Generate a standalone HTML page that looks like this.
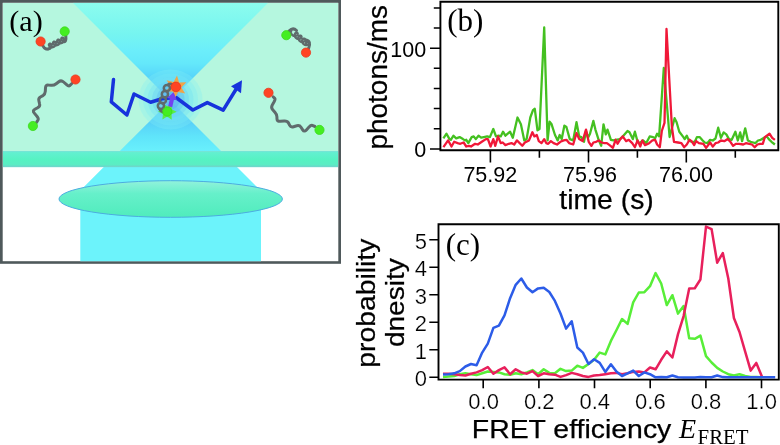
<!DOCTYPE html>
<html><head><meta charset="utf-8"><title>smFRET figure</title>
<style>
html,body{margin:0;padding:0;background:#fff;}
svg{display:block}
.sans{font-family:"Liberation Sans",sans-serif;fill:#000}
.tick{stroke:#fff;stroke-width:0.22px}
.lab{stroke:#000;stroke-width:0.25px}
.serif{font-family:"Liberation Serif",serif;fill:#000}
</style></head><body>
<svg width="780" height="445" viewBox="0 0 780 445">
<defs>
<linearGradient id="beam" gradientUnits="userSpaceOnUse" x1="0" y1="2.8" x2="0" y2="151">
<stop offset="0" stop-color="#8cfcee"/><stop offset="0.21" stop-color="#76f5f0"/><stop offset="0.32" stop-color="#6ceefa"/><stop offset="0.41" stop-color="#64e8fa"/><stop offset="0.49" stop-color="#58d7fa"/><stop offset="0.656" stop-color="#52c0f6"/><stop offset="0.804" stop-color="#58d0f8"/><stop offset="0.9" stop-color="#5fe4fa"/><stop offset="1" stop-color="#69f0fc"/>
</linearGradient>
<linearGradient id="glass" x1="0" y1="0" x2="0" y2="1">
<stop offset="0" stop-color="#7ce0d8"/><stop offset="0.1" stop-color="#62f0d0"/><stop offset="0.55" stop-color="#56f2c2"/><stop offset="0.86" stop-color="#5cecc4"/><stop offset="0.94" stop-color="#6ad6c8"/><stop offset="1" stop-color="#78dcd2"/>
</linearGradient>
<linearGradient id="lens" x1="0" y1="0" x2="0" y2="1">
<stop offset="0" stop-color="#92f2dc"/><stop offset="0.35" stop-color="#66f0ca"/><stop offset="1" stop-color="#50ecbc"/>
</linearGradient>
<clipPath id="pa"><rect x="2.7" y="2.8" width="335.6" height="258.4"/></clipPath>
<clipPath id="pb"><rect x="441" y="2" width="337" height="147.5"/></clipPath>
<clipPath id="pc"><rect x="439.5" y="225" width="339" height="154"/></clipPath>
</defs>
<rect width="780" height="445" fill="#fff"/>
<!-- panel a -->
<rect x="0" y="0" width="341" height="263.8" fill="#4f595b"/>
<rect x="2.7" y="2.8" width="335.6" height="258.4" fill="#fff"/>
<g clip-path="url(#pa)">
<rect x="2.7" y="2.8" width="335.6" height="148.2" fill="#b5f7df"/>
<polygon points="72.8,2.8 268.2,2.8 170.5,100.5" fill="url(#beam)"/>
<polygon points="170.5,100.5 119.8,151 221,151" fill="url(#beam)"/>
<ellipse cx="170.5" cy="99.5" rx="32.0" ry="30.0" fill="#80f0f4" fill-opacity="0.30"/><ellipse cx="170.5" cy="99.5" rx="27.5" ry="26.0" fill="#78ecf4" fill-opacity="0.30"/><ellipse cx="170.5" cy="99.5" rx="23.0" ry="22.0" fill="#70e0f4" fill-opacity="0.35"/><ellipse cx="170.5" cy="99.5" rx="18.5" ry="18.0" fill="#68d0f4" fill-opacity="0.40"/><ellipse cx="170.5" cy="99.5" rx="14.0" ry="14.0" fill="#62c0f0" fill-opacity="0.50"/><ellipse cx="170.5" cy="99.5" rx="9.5" ry="10.0" fill="#5eb2ee" fill-opacity="0.55"/>
<polygon points="119.8,151 221,151 258.5,188.5 261,188.5 261,262 80.3,262 80.3,188.5 82.3,188.5" fill="#6cf3fb"/>
<rect x="2.7" y="151" width="335.6" height="16.2" fill="url(#glass)"/>
<ellipse cx="170.7" cy="199" rx="111.7" ry="18.3" fill="url(#lens)" stroke="#4cace0" stroke-width="1"/>
<!-- blue path -->
<polyline points="113.5,79.6 111.3,101.8 126.9,115 134,94 150.6,102.2 162,98.8 176,97.5 192.8,110 207.3,102.6 223.2,110.2 236.5,88.5" fill="none" stroke="#1733dc" stroke-width="3.5" stroke-linejoin="round" stroke-linecap="round"/>
<polygon points="242,80.3 231,86.3 241,93.2" fill="#1733dc"/>
<!-- center molecule -->
<polygon points="177.0,75.5 179.1,82.4 186.4,82.2 181.4,87.4 185.2,93.6 178.2,91.9 174.8,98.3 172.7,91.4 165.4,91.6 170.4,86.4 166.6,80.2 173.6,81.9" fill="#f0a448"/>
<polygon points="172.2,103.7 171.7,109.2 176.6,111.8 171.6,114.2 171.7,119.8 167.2,116.6 162.4,119.5 162.9,114.0 158.0,111.4 163.0,109.0 162.9,103.4 167.4,106.6" fill="#5aee48"/>
<g fill="none" stroke="#5f6b6c" stroke-width="2.5"><circle cx="166.9" cy="88" r="3.1"/><circle cx="164.9" cy="94.2" r="3.1"/><circle cx="162.9" cy="100.2" r="3.1"/><circle cx="160.9" cy="105.8" r="3.1"/><path d="M167.5,85 Q170,83 172.5,84.5 M159,108 Q160.5,112 164,112"/></g>
<polygon points="168.2,106.3 170,98.6 167.1,98 173.6,92.3 176.9,100.2 174,99.6 172.2,107.3" fill="#7242f0"/>
<circle cx="175.9" cy="86.9" r="4.8" fill="#ff4424" stroke="#e8381c" stroke-width="0.8"/>
<circle cx="167.3" cy="111.6" r="4.6" fill="#44ee22" stroke="#3cd81e" stroke-width="0.8"/>
<!-- top-left coil -->
<g fill="none" stroke="#5f6b6c" stroke-width="3" stroke-linecap="round" stroke-linejoin="round">
<path d="M43,46 Q45.5,50.5 49,48.5"/><polyline points="45.4,48.3 45.9,48.7 46.6,49.0 47.3,49.2 48.0,49.3 48.8,49.1 49.5,48.9 50.2,48.5 50.8,47.9 51.2,47.3 51.5,46.6 51.6,45.9 51.6,45.3 51.5,44.7 51.2,44.2 50.8,43.9 50.4,43.7 50.0,43.6 49.6,43.7 49.3,44.0 49.0,44.3 48.9,44.8 49.0,45.3 49.2,45.8 49.6,46.3 50.1,46.7 50.7,47.0 51.4,47.2 52.1,47.3 52.9,47.1 53.7,46.9 54.3,46.5 54.9,45.9 55.3,45.3 55.6,44.6 55.8,43.9 55.8,43.3 55.6,42.7 55.3,42.2 55.0,41.9 54.5,41.7 54.1,41.6 53.7,41.7 53.4,42.0 53.2,42.3 53.1,42.8 53.1,43.3 53.3,43.8 53.7,44.3 54.2,44.7 54.8,45.0 55.5,45.2 56.3,45.3 57.0,45.1 57.8,44.9 58.5,44.5 59.0,43.9 59.5,43.3 59.8,42.6 59.9,41.9 59.9,41.3 59.7,40.7 59.4,40.2 59.1,39.9 58.7,39.7 58.2,39.6 57.8,39.7 57.5,40.0 57.3,40.3 57.2,40.8 57.2,41.3 57.4,41.8 57.8,42.3 58.3,42.7 58.9,43.0 59.6,43.2 60.4,43.3 61.2,43.1 61.9,42.9 62.6,42.5 63.2,41.9 63.6,41.3 63.9,40.6 64.0,39.9 64.0,39.3 63.8,38.7 63.6,38.2 63.2,37.9 62.8,37.7 62.4,37.6 62.0,37.7 61.6,38.0 61.4,38.3 61.3,38.8 61.4,39.3 61.6,39.8 61.9,40.3" stroke-width="2.3"/><path d="M63.5,41.5 Q66.5,42.5 65.8,36"/>
<path d="M71.9,83.5 L69.7,85.6 Q68.7,86.6 66.3,84.4 L63.6,82.0 Q61.2,79.8 58.8,81.7 L56.2,83.7 Q53.8,85.6 51.2,85.3 L48.3,85.1 Q45.7,84.8 45.5,87.8 L45.3,91.3 Q45.1,94.3 42.9,95.6 L40.4,97.0 Q38.2,98.3 38.9,100.9 L39.6,103.8 Q40.3,106.4 37.7,107.7 L34.8,109.3 Q32.2,110.6 34.3,113.1 L36.7,115.9 Q38.8,118.4 38.1,119.7 L36.5,122.4"/>
<path d="M289,31 Q293,27 296.5,30.5"/><polyline points="291.1,31.0 291.0,31.7 290.9,32.4 291.1,33.1 291.4,33.9 291.8,34.5 292.4,35.1 293.1,35.6 293.9,35.9 294.7,36.0 295.4,36.0 296.1,35.8 296.7,35.5 297.2,35.1 297.6,34.6 297.7,34.1 297.7,33.6 297.6,33.2 297.3,32.9 296.9,32.7 296.5,32.6 296.0,32.7 295.6,33.0 295.2,33.4 294.9,34.0 294.7,34.7 294.7,35.4 294.8,36.1 295.1,36.9 295.6,37.5 296.2,38.1 296.9,38.6 297.6,38.9 298.4,39.0 299.2,39.0 299.9,38.8 300.5,38.5 301.0,38.1 301.3,37.6 301.5,37.1 301.5,36.6 301.3,36.2 301.1,35.9 300.7,35.7 300.2,35.6 299.8,35.7 299.3,36.0 298.9,36.4 298.6,37.0 298.5,37.7 298.4,38.4 298.6,39.1 298.9,39.9 299.3,40.5 299.9,41.1 300.6,41.6 301.4,41.9 302.2,42.0 302.9,42.0 303.6,41.8 304.2,41.5 304.7,41.1 305.1,40.6 305.2,40.1 305.2,39.6 305.1,39.2 304.8,38.9 304.4,38.7 304.0,38.6 303.5,38.7 303.1,39.0 302.7,39.4 302.4,40.0 302.2,40.7 302.2,41.4 302.3,42.1 302.6,42.9 303.1,43.5 303.7,44.1 304.4,44.6 305.1,44.9 305.9,45.0 306.7,45.0 307.4,44.8 308.0,44.5 308.5,44.1 308.8,43.6 309.0,43.1 309.0,42.6 308.8,42.2 308.6,41.9 308.2,41.7 307.7,41.6 307.3,41.7 306.8,42.0 306.4,42.4 306.1,43.0" stroke-width="2.3"/><path d="M306,40 Q311.5,41 308.6,48.5"/>
<path d="M273.2,96.9 L274.8,98.3 Q275.6,99.0 274.1,101.8 L272.3,104.9 Q270.8,107.7 272.7,109.8 L274.9,112.3 Q276.8,114.4 276.9,116.7 L277.0,119.2 Q277.1,121.5 280.4,121.3 L284.1,121.0 Q287.4,120.8 288.5,123.0 L289.7,125.4 Q290.8,127.6 293.6,126.7 L296.7,125.8 Q299.5,124.9 301.0,127.3 L302.7,129.9 Q304.2,132.3 306.4,129.9 L308.8,127.3 Q311.0,124.9 312.3,125.4 L315.0,126.5"/>
</g>
<g stroke-width="0.8">
<circle cx="40.6" cy="41.5" r="4.6" fill="#ff4424" stroke="#e8381c"/>
<circle cx="64.7" cy="31.4" r="4.6" fill="#44ee22" stroke="#3cd81e"/>
<circle cx="75.5" cy="79.5" r="4.6" fill="#ff4424" stroke="#e8381c"/>
<circle cx="32.9" cy="126" r="4.6" fill="#44ee22" stroke="#3cd81e"/>
<circle cx="286.3" cy="35.2" r="4.6" fill="#44ee22" stroke="#3cd81e"/>
<circle cx="306" cy="52.6" r="4.6" fill="#ff4424" stroke="#e8381c"/>
<circle cx="268.5" cy="92.8" r="4.6" fill="#ff4424" stroke="#e8381c"/>
<circle cx="319.5" cy="129.9" r="4.6" fill="#44ee22" stroke="#3cd81e"/>
</g>
</g>
<text class="serif" x="9.2" y="30.9" font-size="30.2">(a)</text>

<!-- panel b -->
<g clip-path="url(#pb)" fill="none" stroke-width="2.3" stroke-linejoin="round">
<polyline points="443.4,138.4 446.5,133.7 449.5,139.1 450.8,139.8 453.5,135.7 456.2,138.4 459.6,137.1 463.0,139.1 465.0,140.4 466.3,139.8 468.3,143.1 471.7,137.1 473.7,136.4 475.8,139.1 478.5,135.7 481.1,137.7 483.8,137.1 487.2,136.4 489.9,137.1 493.3,129.0 496.0,136.4 498.7,135.7 500.7,136.4 503.0,131.7 505.4,135.7 510.1,131.7 512.8,137.7 517.5,117.5 520.9,124.3 524.3,140.4 526.6,139.1 530.3,117.5 533.0,110.1 534.8,108.8 537.5,130.3 539.5,129.0 544.2,27.5 547.6,140.4 549.6,121.6 551.6,124.3 555.0,135.0 557.7,140.4 559.7,135.0 561.7,139.1 564.4,125.6 566.4,127.0 569.8,139.1 573.2,140.4 576.5,122.2 579.2,136.4 581.3,137.1 584.0,141.8 586.0,131.0 588.0,137.7 590.0,133.7 593.4,120.9 595.4,129.6 598.8,140.4 601.2,145.8 603.5,124.3 605.8,134.4 607.5,129.6 610.9,139.8 613.6,140.4 615.6,139.8 620.0,139.1 623.4,135.7 627.5,131.0 629.5,132.3 632.8,139.1 634.9,131.7 637.6,141.8 639.6,143.1 643.0,140.4 646.3,143.1 649.7,136.4 653.1,137.1 655.1,138.4 657.1,133.7 659.1,136.4 663.8,68.0 669.6,137.0 674.6,118.2 676.6,122.2 679.3,131.7 683.4,137.1 684.7,139.1 686.8,135.7 688.8,140.4 691.5,141.8 694.8,141.8 696.9,137.1 699.6,137.1 702.7,140.5 704.7,142.5 707.4,143.2 710.1,139.8 712.8,140.5 715.5,138.5 718.2,127.7 720.9,137.8 723.6,132.4 726.3,134.4 729.0,139.1 731.7,139.8 735.4,131.7 737.8,140.5 740.2,132.4 742.1,141.2 745.2,128.3 747.9,140.5 750.6,141.8 753.3,142.5 755.3,143.2 758.0,140.5 760.7,139.8 764.1,137.8 766.8,136.4 768.8,139.1 771.5,141.8 774.9,144.5" stroke="#44c020"/>
<polyline points="443.4,147.2 448.1,140.4 451.5,146.5 454.2,141.8 457.6,143.1 460.3,143.8 463.6,142.5 466.3,146.5 469.0,145.8 471.0,146.5 475.1,143.8 477.8,144.5 481.8,141.8 485.9,139.1 487.9,139.1 490.6,146.5 493.3,139.1 495.3,145.8 498.0,136.4 500.7,143.1 502.7,142.5 505.4,145.1 508.8,143.8 511.5,143.1 514.2,144.5 516.9,140.4 522.3,145.8 524.9,142.5 529.0,140.4 532.4,132.3 534.4,136.4 536.8,135.0 538.8,141.1 541.5,143.1 544.2,139.1 546.2,143.1 548.2,143.8 550.9,141.1 553.6,143.1 557.0,144.5 560.4,141.8 563.7,140.4 566.4,139.8 569.1,143.1 573.2,144.5 576.5,133.0 579.2,139.1 582.6,141.1 586.0,129.6 588.7,141.8 591.4,145.8 593.4,142.5 596.1,141.8 598.8,140.4 601.5,142.5 604.2,143.1 606.9,143.1 609.6,145.1 612.9,147.8 615.6,139.8 617.6,143.8 620.3,139.1 623.0,136.4 622.7,136.4 626.1,141.1 628.8,139.8 632.2,143.1 634.9,147.2 637.6,140.4 640.3,146.5 642.3,140.4 645.0,145.1 648.3,143.8 652.4,140.4 655.1,139.8 657.1,144.5 659.8,147.2 661.8,131.0 664.5,122.9 666.5,29.0 671.9,127.0 674.0,141.8 678.0,142.5 681.4,143.1 684.1,147.2 686.8,144.5 689.5,139.8 691.5,141.1 694.2,145.1 696.2,141.1 698.9,143.1 703.4,143.9 706.1,147.9 710.1,142.5 712.8,146.6 715.5,143.2 718.2,142.5 720.9,140.5 724.3,141.2 727.7,139.1 730.4,141.8 733.1,145.9 735.8,143.9 739.1,143.9 743.2,144.5 745.9,143.2 749.3,143.9 752.0,144.5 754.7,147.2 757.4,144.5 760.1,143.9 762.8,143.9 764.8,137.1 769.5,133.7 772.2,137.8 774.9,139.8" stroke="#f01838"/>
</g>
<g stroke="#000" fill="none">
<path d="M440.4,150.2 V1.8 H778.3 V150.2 Z" stroke-width="1.9"/>
<path d="M430,148.9H440 M433.8,128.7H440 M433.8,108.6H440 M433.8,88.4H440 M433.8,68.3H440 M430,48.3H440 M433.8,28.1H440 M433.8,8H440" stroke-width="1.5"/>
<path d="M490.4,150V162.5 M588.5,150V162.5 M686.3,150V162.5 M539.4,150V157.8 M637.4,150V157.8 M735.3,150V157.8" stroke-width="1.6"/>
</g>
<text class="serif" x="447.2" y="30.9" font-size="31">(b)</text>
<g class="sans" font-size="21.5">
<text x="426.1" y="56.9" text-anchor="end">100</text>
<text x="426.1" y="156.5" text-anchor="end">0</text>
<text x="490.3" y="181.9" text-anchor="middle">75.92</text>
<text x="590" y="181.9" text-anchor="middle">75.96</text>
<text x="686" y="181.9" text-anchor="middle">76.00</text>
</g>
<text class="sans lab" font-size="27" x="606.5" y="208.6" text-anchor="middle" textLength="94.5" lengthAdjust="spacingAndGlyphs">time (s)</text>
<text class="sans lab" font-size="27.3" transform="translate(386.8,77.3) rotate(-90)" text-anchor="middle" textLength="144.5" lengthAdjust="spacingAndGlyphs">photons/ms</text>

<!-- panel c -->
<g clip-path="url(#pc)" fill="none" stroke-width="2.5" stroke-linejoin="round">
<polyline points="443.0,376.9 448.6,376.5 454.2,376.0 459.8,374.2 465.4,373.3 471.0,374.2 476.6,375.1 482.2,373.3 487.8,371.5 493.4,371.9 498.9,372.4 504.5,374.2 510.1,374.7 515.7,373.3 521.3,374.2 526.9,372.4 532.5,370.1 538.1,374.2 543.7,369.3 549.3,372.9 554.9,373.3 560.5,368.8 566.1,371.1 571.7,370.6 577.3,365.7 582.9,367.9 588.5,364.0 594.1,359.8 599.7,352.6 605.3,354.4 610.9,340.9 616.4,330.2 622.0,319.0 627.6,323.9 633.2,302.4 638.8,292.5 644.4,292.2 650.0,286.2 655.6,273.1 661.2,283.5 666.8,305.1 672.4,295.2 678.0,313.6 683.6,306.0 689.2,338.2 694.8,338.8 700.4,335.6 706.0,356.2 711.6,362.5 717.2,367.9 722.8,371.5 728.3,374.2 733.9,375.5 739.5,374.2 745.1,376.0 750.7,376.9 756.3,377.1 761.9,377.3" stroke="#58ee38"/>
<polyline points="443.0,373.8 448.6,373.7 454.2,374.2 459.8,375.1 465.4,375.5 471.0,373.7 476.6,372.4 482.2,370.1 487.8,367.0 493.4,373.8 498.9,370.1 504.5,367.4 510.1,374.2 515.7,369.3 521.3,372.4 526.9,373.7 532.5,371.1 538.1,376.0 543.7,373.3 549.3,374.2 554.9,374.7 560.5,376.9 566.1,375.1 571.7,372.9 577.3,374.2 582.9,376.0 588.5,376.9 594.1,375.5 599.7,375.1 605.3,374.2 610.9,373.3 616.4,372.9 622.0,374.2 627.6,373.3 633.2,371.9 638.8,371.5 644.4,372.4 650.0,367.5 655.6,369.3 661.2,359.8 666.8,351.4 672.4,357.5 678.0,334.1 683.6,316.1 689.2,288.6 694.8,288.2 700.4,279.5 706.0,226.6 711.6,229.1 717.2,262.7 722.8,253.0 728.3,278.5 733.9,318.0 739.5,332.0 745.1,351.4 750.7,370.6 756.3,362.9 761.9,376.5" stroke="#e8205c"/>
<polyline points="443.0,374.6 448.6,374.2 454.2,373.3 459.8,371.1 465.4,366.5 471.0,364.0 476.6,365.2 482.2,352.6 487.8,343.6 493.4,327.9 498.9,325.7 504.5,315.3 510.1,298.2 515.7,284.8 521.3,278.5 526.9,287.5 532.5,292.3 538.1,288.4 543.7,287.8 549.3,292.0 554.9,300.9 560.5,313.5 566.1,328.6 571.7,321.3 577.3,347.5 582.9,352.6 588.5,364.0 594.1,359.3 599.7,362.9 605.3,371.9 610.9,364.3 616.4,371.5 622.0,376.0 627.6,373.3 633.2,370.6 638.8,376.0 644.4,372.4 650.0,374.2 655.6,377.3 661.2,376.9 666.8,377.3 672.4,375.5 678.0,377.3 683.6,377.4 689.2,377.4 694.8,377.4 700.4,377.1 706.0,377.3 711.6,377.3 717.2,375.5 722.8,377.1 728.3,377.3 733.9,377.3 739.5,377.3 745.1,377.3 750.7,377.3 756.3,377.3 761.9,377.3 767.5,377.3 773.1,377.3 775.2,377.3" stroke="#2c5ce8"/>
</g>
<g stroke="#000" fill="none">
<path d="M438.5,379.6 V224.3 H778.8 V379.6 Z" stroke-width="1.9"/>
<path d="M429.3,377.2H438.5 M429.3,349.7H438.5 M429.3,322.2H438.5 M429.3,294.7H438.5 M429.3,267.2H438.5 M429.3,239.8H438.5" stroke-width="1.5"/>
<path d="M483.2,379.4V388.2 M538.9,379.4V388.2 M594.5,379.4V388.2 M650.2,379.4V388.2 M705.9,379.4V388.2 M761.5,379.4V388.2" stroke-width="1.6"/>
</g>
<text class="serif" x="445.7" y="254.8" font-size="31">(c)</text>
<g class="sans tick" font-size="22" text-anchor="end">
<text x="427" y="386.1">0</text><text x="427" y="358.6">1</text><text x="427" y="331.1">2</text><text x="427" y="303.6">3</text><text x="427" y="276.1">4</text><text x="427" y="248.7">5</text>
</g>
<g class="sans tick" font-size="22" text-anchor="middle">
<text x="483.6" y="408.8">0.0</text><text x="539.2" y="408.8">0.2</text><text x="594.8" y="408.8">0.4</text><text x="650.4" y="408.8">0.6</text><text x="706.0" y="408.8">0.8</text><text x="761.6" y="408.8">1.0</text>
</g>
<text class="sans lab" font-size="26.5" x="471.8" y="437.6" textLength="199.5" lengthAdjust="spacingAndGlyphs">FRET efficiency</text>
<text class="serif" font-size="28" font-style="italic" x="679" y="437.6">E</text>
<text class="serif" font-size="20.5" x="697.6" y="444" textLength="51" lengthAdjust="spacingAndGlyphs">FRET</text>
<text class="sans lab" font-size="26.5" transform="translate(374.8,303.2) rotate(-90)" text-anchor="middle" textLength="129" lengthAdjust="spacingAndGlyphs">probability</text>
<text class="sans lab" font-size="26.5" transform="translate(403.8,302.7) rotate(-90)" text-anchor="middle" textLength="88.8" lengthAdjust="spacingAndGlyphs">dnesity</text>
</svg>
</body></html>
